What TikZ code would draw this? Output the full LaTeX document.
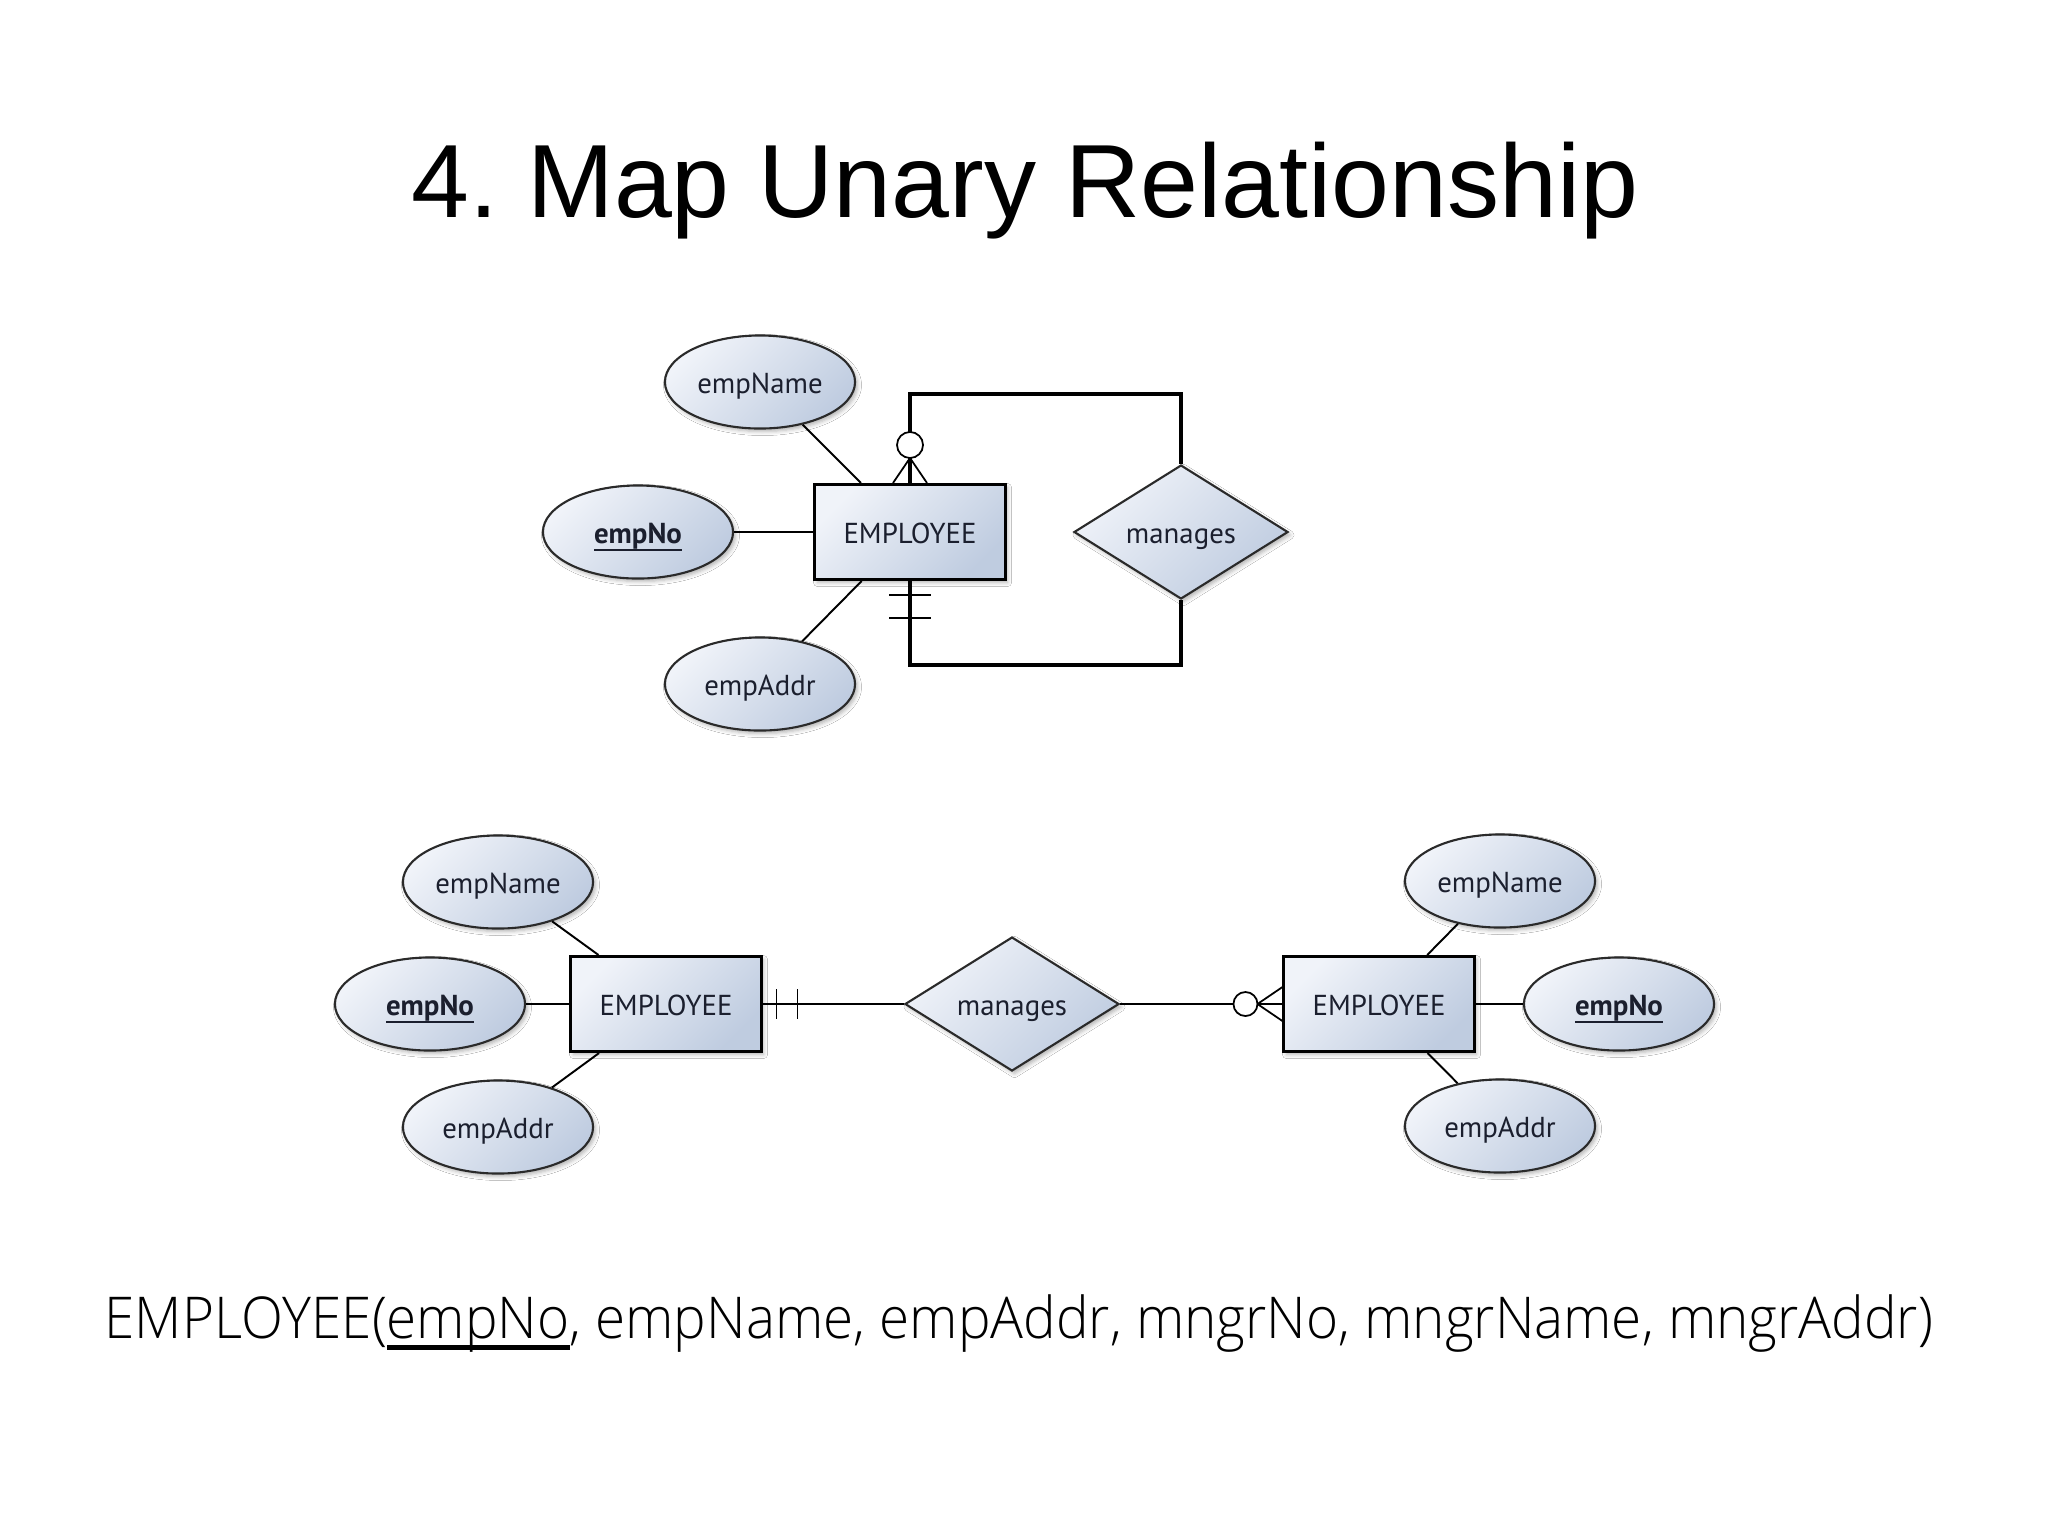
\documentclass[tikz,border=0pt]{standalone}
\usepackage{fontspec}
\setmainfont{Liberation Sans}
\newfontfamily\erfont{PT Sans}
\IfFontExistsTF{Open Sans Light}
  {\newfontfamily\relfont[FakeStretch=0.95]{Open Sans Light}\newcommand{\relsize}{\fontsize{16.4}{20}\selectfont}}
  {\newfontfamily\relfont{Carlito}\newcommand{\relsize}{\fontsize{17.4}{22}\selectfont}}
\usetikzlibrary{shapes.geometric,shadows.blur,calc}
\definecolor{erlight}{HTML}{F0F3F9}
\definecolor{erdark}{HTML}{BFCCE0}
\definecolor{erline}{HTML}{2A2A2A}
\definecolor{ertext}{HTML}{1B1F2E}
\newcommand{\erul}[1]{\setbox0\hbox{#1}\rlap{\rule[-0.24em]{\wd0}{0.6pt}}\box0}
\newcommand{\relul}[1]{\setbox0\hbox{#1}\rlap{\rule[-0.2em]{\wd0}{1.2pt}}\box0}
\tikzset{
  erfill/.style={top color=erlight, bottom color=erdark, shading angle=45,
    blur shadow={shadow xshift=0.025cm, shadow yshift=-0.03cm, shadow blur radius=0.04cm, shadow opacity=30}},
  erfont/.style={font=\erfont\fontsize{8.2}{10}\selectfont, text=ertext, text height=0.68em, text depth=0pt},
  attr/.style={ellipse, erfill, draw=erline, line width=0.6pt, minimum width=1.9cm, minimum height=0.93cm, inner sep=0pt, erfont},
  ent/.style={rectangle, erfill, draw=black, line width=0.85pt, minimum width=1.9cm, minimum height=0.95cm, inner sep=0pt, erfont},
  rel/.style={diamond, erfill, draw=erline, line width=0.6pt, minimum width=2.14cm, minimum height=1.3cm, inner sep=0pt, erfont},
  conn/.style={draw=black, line width=0.55pt},
  loopline/.style={draw=black, line width=1.1pt},
  crow/.style={draw=black, line width=0.5pt},
}
\begin{document}
\begin{tikzpicture}[x=0.01cm, y=-0.01cm]
\useasboundingbox[fill=white] (0,0) rectangle (2048,1535);

% title
\node[anchor=base, font=\fontsize{29.6}{34}\selectfont] (title) at (1025,217) {4.\ Map Unary Relationship};

% ---------- top diagram ----------
\node[ent] (e1) at (910,532) {EMPLOYEE};
\node[attr] (a1n) at (760,382) {empName};
\node[attr] (a1k) at (638,532) {\textbf{\erul{empNo}}};
\node[attr] (a1a) at (760,684) {empAddr};
\node[rel] (m1) at (1181,532) {manages};

\draw[conn] (a1n) -- (e1);
\draw[conn] (a1k) -- (e1);
\draw[conn] (a1a) -- (e1);

\coordinate (lt) at (1181,394);
\coordinate (lb) at (1181,665);
\draw[loopline] (e1.north) |- (lt) -- (m1.north);
\draw[loopline] (e1.south) |- (lb) -- (m1.south);

% zero-or-many at top
\draw[crow] ($(e1.north)+(0,-25)$) -- ($(e1.north)+(-17,0)$);
\draw[crow] ($(e1.north)+(0,-25)$) -- ($(e1.north)+(17,0)$);
\draw[crow, fill=white] ($(e1.north)+(0,-38)$) circle[radius=0.13cm];
% one-and-only-one at bottom
\draw[crow, line width=0.6pt] ($(e1.south)+(-21,14)$) -- ($(e1.south)+(21,14)$);
\draw[crow, line width=0.6pt] ($(e1.south)+(-21,37)$) -- ($(e1.south)+(21,37)$);

% ---------- bottom diagram ----------
\node[ent] (e2) at (666,1004) {EMPLOYEE};
\node[attr] (a2n) at (498,882) {empName};
\node[attr] (a2k) at (430,1004) {\textbf{\erul{empNo}}};
\node[attr] (a2a) at (498,1127) {empAddr};
\node[rel] (m2) at (1012,1004) {manages};
\node[ent] (e3) at (1379,1004) {EMPLOYEE};
\node[attr] (a3n) at (1500,881) {empName};
\node[attr] (a3k) at (1619,1004) {\textbf{\erul{empNo}}};
\node[attr] (a3a) at (1500,1126) {empAddr};

\draw[conn] (a2n) -- (e2);
\draw[conn] (a2k) -- (e2);
\draw[conn] (a2a) -- (e2);
\draw[conn] (a3n) -- (e3);
\draw[conn] (a3k) -- (e3);
\draw[conn] (a3a) -- (e3);

\draw[conn] (e2) -- (m2);
\draw[conn] (m2) -- (e3);

% one-and-only-one near left entity
\draw[crow] ($(e2.east)+(14,-15)$) -- ($(e2.east)+(14,15)$);
\draw[crow] ($(e2.east)+(35,-15)$) -- ($(e2.east)+(35,15)$);
% zero-or-many near right entity
\draw[crow] ($(e3.west)+(-25,0)$) -- ($(e3.west)+(0,-17)$);
\draw[crow] ($(e3.west)+(-25,0)$) -- ($(e3.west)+(0,17)$);
\draw[crow, fill=white] ($(e3.west)+(-37,0)$) circle[radius=0.12cm];

% relation schema
\node[anchor=base west, inner sep=0pt, font=\relfont\relsize] (schema) at (104,1338)
  {EMPLOYEE(\relul{empNo}, empName, empAddr, mngrNo, mngrName, mngrAddr)};
\end{tikzpicture}
\end{document}
